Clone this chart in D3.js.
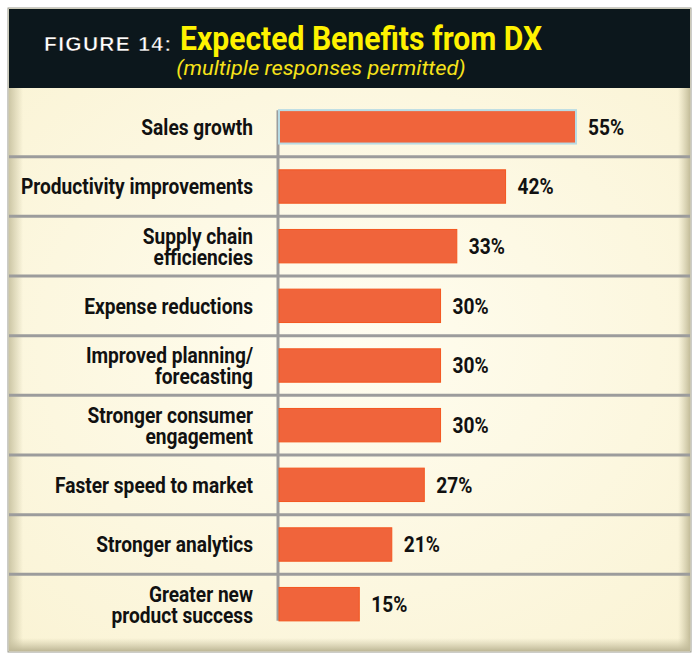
<!DOCTYPE html>
<html>
<head>
<meta charset="utf-8">
<script src="https://cdn.jsdelivr.net/npm/d3@7"></script>
<style>
  body { margin: 0; background: #fff; }
  svg { display: block; }
</style>
</head>
<body>
<svg id="chart" width="700" height="665"></svg>
<script>
    // chart data
    var categories = [
        ["Sales growth"],
        ["Productivity improvements"],
        ["Supply chain", "efficiencies"],
        ["Expense reductions"],
        ["Improved planning/", "forecasting"],
        ["Stronger consumer", "engagement"],
        ["Faster speed to market"],
        ["Stronger analytics"],
        ["Greater new", "product success"]
    ];
    var values = [55, 42, 33, 30, 30, 30, 27, 21, 15];
    var titleLead = "FIGURE 14:";
    var titleMain = "Expected Benefits from DX";
    var subtitle = "(multiple responses permitted)";

    var condFont = "Roboto, 'Liberation Sans', sans-serif";
    var squeeze = 0.87;   // fake a condensed face

    var svg = d3.select("#chart");
    var defs = svg.append("defs");

    var rg = defs.append("radialGradient").attr("id", "panelBg")
        .attr("cx", "50%").attr("cy", "45%").attr("r", "75%");
    rg.append("stop").attr("offset", "0%").attr("stop-color", "#fffdf0");
    rg.append("stop").attr("offset", "100%").attr("stop-color", "#faf3d4");

    var lg = defs.append("linearGradient").attr("id", "edgeL");
    lg.append("stop").attr("offset", "0%").attr("stop-color", "#cdc7a6");
    lg.append("stop").attr("offset", "100%").attr("stop-color", "#cdc7a6").attr("stop-opacity", 0);
    var rgE = defs.append("linearGradient").attr("id", "edgeR");
    rgE.append("stop").attr("offset", "0%").attr("stop-color", "#cdc7a6").attr("stop-opacity", 0);
    rgE.append("stop").attr("offset", "100%").attr("stop-color", "#c4bd9a");
    var bg = defs.append("linearGradient").attr("id", "edgeB")
        .attr("x1", 0).attr("y1", 0).attr("x2", 0).attr("y2", 1);
    bg.append("stop").attr("offset", "0%").attr("stop-color", "#cdc7a6").attr("stop-opacity", 0);
    bg.append("stop").attr("offset", "100%").attr("stop-color", "#bfb897");

    // frame + header
    svg.append("rect").attr("x", 8).attr("y", 8).attr("width", 683).attr("height", 644)
        .attr("fill", "#fdf8e0").attr("stroke", "#9a9a90").attr("stroke-width", 1);
    svg.append("rect").attr("x", 9).attr("y", 88).attr("width", 681).attr("height", 563)
        .attr("fill", "url(#panelBg)");
    svg.append("rect").attr("x", 9).attr("y", 88).attr("width", 14).attr("height", 563).attr("fill", "url(#edgeL)");
    svg.append("rect").attr("x", 678).attr("y", 88).attr("width", 12).attr("height", 563).attr("fill", "url(#edgeR)");
    svg.append("rect").attr("x", 9).attr("y", 638).attr("width", 681).attr("height", 13).attr("fill", "url(#edgeB)");
    svg.append("rect").attr("x", 9).attr("y", 9).attr("width", 681).attr("height", 79).attr("fill", "#0c171c");

    svg.append("text").attr("x", 44).attr("y", 51)
        .attr("font-family", "'Liberation Sans', Arial, sans-serif").attr("font-weight", "bold")
        .attr("font-size", 21).attr("letter-spacing", 1.3)
        .attr("fill", "#fff").attr("stroke", "#000").attr("stroke-width", 0.5)
        .text(titleLead);
    svg.append("g").attr("transform", "translate(180,50) scale(0.885,1)")
        .append("text")
        .attr("font-family", condFont).attr("font-weight", "bold")
        .attr("font-size", 34).attr("fill", "#fff200")
        .text(titleMain);
    svg.append("g").attr("transform", "translate(321,75) scale(1.09,1)")
        .append("text").attr("text-anchor", "middle")
        .attr("font-family", condFont).attr("font-style", "italic")
        .attr("font-size", 20).attr("fill", "#f7e21a")
        .text(subtitle);

    // scales
    var x = d3.scaleLinear().domain([0, 55]).range([278, 576]);
    var y = d3.scaleBand().domain(d3.range(values.length)).range([97, 634]).paddingInner(0.44).paddingOuter(0.22);
    var step = y.step();
    var gap = (step - y.bandwidth()) / 2;

    // row separators
    var seps = d3.range(1, values.length);
    svg.append("g").selectAll("line").data(seps).join("line")
        .attr("x1", 9).attr("x2", 690)
        .attr("y1", d => y(d) - gap)
        .attr("y2", d => y(d) - gap)
        .attr("stroke", "#9c9c9c").attr("stroke-width", 3);

    // baseline
    svg.append("line")
        .attr("x1", x(0)).attr("x2", x(0))
        .attr("y1", y(0)).attr("y2", y(values.length - 1) + y.bandwidth())
        .attr("stroke", "#9c9c9c").attr("stroke-width", 3);

    // bars
    svg.append("g").selectAll("rect").data(values).join("rect")
        .attr("x", x(0) + 1)
        .attr("y", (d, i) => y(i))
        .attr("width", d => x(d) - x(0) - 1)
        .attr("height", y.bandwidth())
        .attr("fill", "#f0643b")
        .attr("stroke", (d, i) => i == 0 ? "#b8dbe4" : "#f4561f")
        .attr("stroke-width", (d, i) => i == 0 ? 2 : 1);

    // value labels
    svg.append("g").selectAll("g").data(values).join("g")
        .attr("transform", (d, i) => "translate(" + (x(d) + 12) + "," + (y(i) + y.bandwidth() / 2) + ") scale(" + squeeze + ",1)")
        .append("text")
        .attr("dy", "0.36em")
        .attr("font-family", condFont).attr("font-weight", "bold")
        .attr("font-size", 22).attr("fill", "#111")
        .text(d => d + "%");

    // category labels
    var lab = svg.append("g").selectAll("g").data(categories).join("g")
        .attr("transform", (d, i) => "translate(253," + (y(i) + y.bandwidth() / 2) + ") scale(" + squeeze + ",1)")
        .append("text")
        .attr("text-anchor", "end")
        .attr("font-family", condFont).attr("font-weight", "bold")
        .attr("font-size", 22).attr("fill", "#111");
    lab.each(function (d) {
        var lh = 21;
        d3.select(this).selectAll("tspan").data(d).join("tspan")
            .attr("x", 0)
            .attr("y", (t, j) => (j - (d.length - 1) / 2) * lh)
            .attr("dy", "0.36em")
            .text(t => t);
    });
</script>
</body>
</html>
